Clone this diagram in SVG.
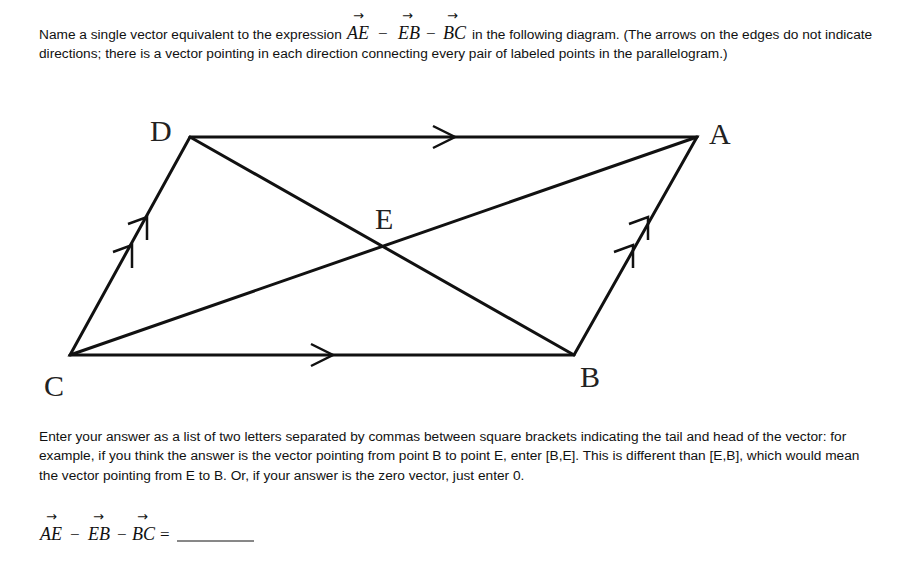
<svg xmlns="http://www.w3.org/2000/svg" width="913" height="572" viewBox="0 0 913 572">
<style>
.t{font-family:"Liberation Sans",Arial,sans-serif;font-size:13.7px;fill:#111}
.m{font-family:"Liberation Serif","DejaVu Serif",serif;font-style:italic;font-size:18px;fill:#111}
.mo{font-family:"Liberation Serif","DejaVu Serif",serif;font-size:17px;fill:#111}
.ar{font-family:"DejaVu Sans",sans-serif;font-size:13px;fill:#111}
.lbl{font-family:"Liberation Serif","DejaVu Serif",serif;font-size:30px;fill:#222}
.e{stroke:#111;stroke-width:3;fill:none;stroke-linecap:round}
.c{stroke:#111;stroke-width:2.5;fill:none}
</style>
<rect width="913" height="572" fill="#fff"/>
<text class="t" x="39" y="39">Name a single vector equivalent to the expression</text>
<text class="m" x="347" y="39">AE</text><text class="mo" x="378" y="39">−</text>
<text class="m" x="398" y="39">EB</text><text class="mo" x="426" y="39">−</text>
<text class="m" x="443" y="39">BC</text>
<text class="t" x="472" y="39">in the following diagram. (The arrows on the edges do not indicate</text>
<text class="ar" x="353" y="20">→</text><text class="ar" x="402" y="20">→</text><text class="ar" x="447" y="20">→</text>
<text class="t" x="39" y="58">directions; there is a vector pointing in each direction connecting every pair of labeled points in the parallelogram.)</text>
<g id="connectors">
<path class="e" d="M190,137 L697,137 L574,355 L70,355 Z"/>
<path class="e" d="M190,137 L574,355 M70,355 L697,137"/>
<path class="c" d="M433,126 L455,137 L433,148 M311,344 L333,355 L311,366"/>
<path class="c" d="M113,252 L132,245 L132,268 M128,224 L147,217 L147,240"/>
<path class="c" d="M614,252 L633,245 L633,268 M629,224 L648,217 L648,240"/>
</g>
<g id="D"><text class="lbl" x="150" y="141">D</text></g>
<g id="A"><text class="lbl" x="709" y="144">A</text></g>
<g id="E"><text class="lbl" x="375" y="229">E</text></g>
<g id="C"><text class="lbl" x="44" y="396">C</text></g>
<g id="B"><text class="lbl" x="580" y="387">B</text></g>
<text class="t" x="39" y="441">Enter your answer as a list of two letters separated by commas between square brackets indicating the tail and head of the vector: for</text>
<text class="t" x="39" y="460">example, if you think the answer is the vector pointing from point B to point E, enter [B,E].  This is different than [E,B], which would mean</text>
<text class="t" x="39" y="480">the vector pointing from E to B. Or, if your answer is the zero vector, just enter 0.</text>
<text class="m" x="40" y="540">AE</text><text class="mo" x="70" y="540">−</text>
<text class="m" x="88" y="540">EB</text><text class="mo" x="117" y="540">−</text>
<text class="m" x="132" y="540">BC</text><text class="mo" x="160" y="540">=</text>
<text class="ar" x="46" y="521">→</text><text class="ar" x="93" y="521">→</text><text class="ar" x="137" y="521">→</text>
<line x1="177" y1="541" x2="254" y2="541" stroke="#111" stroke-width="1"/>
</svg>
